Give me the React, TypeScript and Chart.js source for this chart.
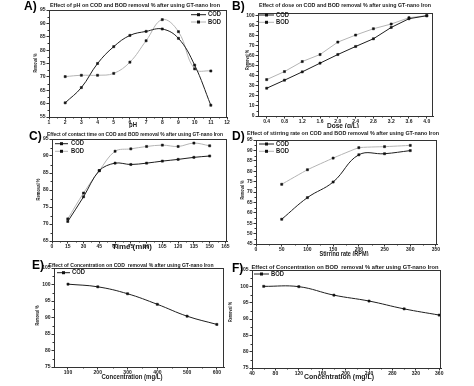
import React, { useEffect, useRef } from 'react';
import { Chart, registerables } from 'chart.js';
Chart.register(...registerables);

const FONT = '"Liberation Sans", Arial, sans-serif';
const COD_COLOR = '#1e1e1e';
const BOD_COLOR = '#b4b4b4';

// ---- Panel A: pH ----
const phValues = [2, 3, 4, 5, 6, 7, 8, 9, 10, 11];
const codPh = [60.3, 66.0, 75.0, 81.3, 85.5, 87.0, 87.9, 84.4, 74.4, 59.4];
const bodPh = [70.1, 70.6, 70.6, 71.3, 75.5, 83.5, 91.4, 86.9, 73.0, 72.2];
const phXTicks = [1, 2, 3, 4, 5, 6, 7, 8, 9, 10, 11, 12];
const phYTicks = [55, 60, 65, 70, 75, 80, 85, 90, 95];

// ---- Panel B: dose ----
const doseValues = [0.4, 0.8, 1.2, 1.6, 2.0, 2.4, 2.8, 3.2, 3.6, 4.0];
const codDose = [27.7, 35.7, 44.0, 52.7, 61.3, 69.3, 77.0, 88.3, 97.0, 100];
const bodDose = [36.3, 44.3, 54.3, 61.3, 73.7, 80.7, 87.0, 91.7, 98.0, 100];
const doseXTicks = [0.4, 0.8, 1.2, 1.6, 2.0, 2.4, 2.8, 3.2, 3.6, 4.0];
const doseYTicks = [0, 10, 20, 30, 40, 50, 60, 70, 80, 90, 100];

// ---- Panel C: contact time ----
const timeValues = [15, 30, 45, 60, 75, 90, 105, 120, 135, 150];
const codTime = [70.75, 78.0, 85.7, 87.9, 87.5, 87.9, 88.5, 89.0, 89.6, 90.0];
const bodTime = [71.5, 79.1, 85.7, 91.4, 92.1, 92.8, 93.2, 92.8, 93.8, 93.0];
const timeXTicks = [0, 15, 30, 45, 60, 75, 90, 105, 120, 135, 150, 165];
const timeYTicks = [65, 70, 75, 80, 85, 90, 95];

// ---- Panel D: stirring rate ----
const rpmValues = [50, 100, 150, 200, 250, 300];
const codRpm = [56.9, 67.3, 74.8, 87.9, 88.4, 89.9];
const bodRpm = [73.7, 80.7, 86.3, 91.3, 91.8, 92.4];
const rpmXTicks = [0, 50, 100, 150, 200, 250, 300, 350];
const rpmYTicks = [45, 50, 55, 60, 65, 70, 75, 80, 85, 90, 95];

// ---- Panel E: concentration (COD) ----
const concCodValues = [100, 200, 300, 400, 500, 600];
const codConc = [100.1, 99.3, 97.2, 94.0, 90.4, 87.9];
const concCodXTicks = [100, 200, 300, 400, 500, 600];

// ---- Panel F: concentration (BOD) ----
const concBodValues = [60, 120, 180, 240, 300, 360];
const bodConc = [100.0, 99.9, 97.3, 95.5, 93.1, 91.2];
const concBodXTicks = [40, 80, 120, 160, 200, 240, 280, 320, 360];
const concYTicks = [75, 80, 85, 90, 95, 100, 105];

function pts(xs: number[], ys: number[]) {
  return xs.map((x, i) => ({ x, y: ys[i] }));
}

function drawFitText(ctx: CanvasRenderingContext2D, text: string, cx: number, cy: number, size: number, width: number | null, rotate = false, color = '#1a1a1a') {
  ctx.save();
  ctx.font = `bold ${size}px ${FONT}`;
  ctx.fillStyle = color;
  ctx.textAlign = 'center';
  ctx.textBaseline = 'middle';
  const w = ctx.measureText(text).width;
  ctx.translate(cx, cy);
  if (rotate) ctx.rotate(-Math.PI / 2);
  if (width) ctx.scale(width / w, 1);
  ctx.fillText(text, 0, 0);
  ctx.restore();
}

type Series = { label: string; xs: number[]; ys: number[]; color: string; tension: number; legendY: number };

type PanelSpec = {
  letter: string; letterX: number; letterY: number;
  box: { left: number; top: number; width: number; height: number };
  area: { l: number; r: number; t: number; b: number };
  xMin: number; xMax: number; xTicks: number[]; xFmt: (v: number) => string;
  yMin: number; yMax: number; yTicks: number[];
  title: { text: string; x: number; y: number; w: number };
  xTitle: { text: string; x: number; y: number; w: number };
  yTitle: { x: number; y: number; w: number };
  legend: { x0: number; x1: number; tx: number };
  series: Series[];
};

const panels: PanelSpec[] = [
  {
    letter: 'A)', letterX: 24, letterY: 0,
    box: { left: 0, top: 0, width: 237, height: 128 },
    area: { l: 49, r: 227, t: 10, b: 117 },
    xMin: 1, xMax: 12, xTicks: phXTicks, xFmt: (v) => String(v),
    yMin: 55, yMax: 95, yTicks: phYTicks,
    title: { text: 'Effect of pH on COD and BOD removal % after using GT-nano Iron', x: 135, y: 5.5, w: 170 },
    xTitle: { text: 'pH', x: 133, y: 125.3, w: 8 },
    yTitle: { x: 35, y: 63, w: 19 },
    legend: { x0: 191, x1: 206, tx: 208 },
    series: [
      { label: 'COD', xs: phValues, ys: codPh, color: COD_COLOR, tension: 0.4, legendY: 14.7 },
      { label: 'BOD', xs: phValues, ys: bodPh, color: BOD_COLOR, tension: 0.4, legendY: 22 },
    ],
  },
  {
    letter: 'B)', letterX: 232, letterY: 0,
    box: { left: 232, top: 0, width: 242, height: 128 },
    area: { l: 258, r: 433, t: 13, b: 116 },
    xMin: 0.205, xMax: 4.14, xTicks: doseXTicks, xFmt: (v) => v.toFixed(1),
    yMin: 0, yMax: 102.7, yTicks: doseYTicks,
    title: { text: 'Effect of dose on COD and BOD removal % after using GT-nano Iron', x: 345, y: 5.3, w: 172 },
    xTitle: { text: 'Dose (g/L)', x: 343, y: 126.5, w: 32 },
    yTitle: { x: 247, y: 60, w: 20 },
    legend: { x0: 259, x1: 274, tx: 276 },
    series: [
      { label: 'COD', xs: doseValues, ys: codDose, color: COD_COLOR, tension: 0, legendY: 15 },
      { label: 'BOD', xs: doseValues, ys: bodDose, color: BOD_COLOR, tension: 0, legendY: 22.3 },
    ],
  },
  {
    letter: 'C)', letterX: 29, letterY: 129.5,
    box: { left: 0, top: 128, width: 237, height: 128 },
    area: { l: 52, r: 227, t: 139, b: 241 },
    xMin: 0, xMax: 166.5, xTicks: timeXTicks, xFmt: (v) => String(v),
    yMin: 65, yMax: 95, yTicks: timeYTicks,
    title: { text: 'Effect of contact time on COD and BOD removal % after using GT-nano Iron', x: 135, y: 134.3, w: 176 },
    xTitle: { text: 'Time (min)', x: 132, y: 247, w: 40 },
    yTitle: { x: 38, y: 189.5, w: 22 },
    legend: { x0: 55, x1: 68, tx: 71 },
    series: [
      { label: 'COD', xs: timeValues, ys: codTime, color: COD_COLOR, tension: 0.35, legendY: 143.7 },
      { label: 'BOD', xs: timeValues, ys: bodTime, color: BOD_COLOR, tension: 0.35, legendY: 151.3 },
    ],
  },
  {
    letter: 'D)', letterX: 232, letterY: 130,
    box: { left: 232, top: 128, width: 242, height: 128 },
    area: { l: 256, r: 437, t: 140, b: 244 },
    xMin: 0, xMax: 352, xTicks: rpmXTicks, xFmt: (v) => String(v),
    yMin: 45, yMax: 95, yTicks: rpmYTicks,
    title: { text: 'Effect of stirring rate on COD and BOD removal % after using GT-nano Iron', x: 343, y: 133.3, w: 192 },
    xTitle: { text: 'Stirring rate (RPM)', x: 344, y: 254.7, w: 49 },
    yTitle: { x: 242, y: 190, w: 19 },
    legend: { x0: 259, x1: 274, tx: 276 },
    series: [
      { label: 'COD', xs: rpmValues, ys: codRpm, color: COD_COLOR, tension: 0.4, legendY: 144 },
      { label: 'BOD', xs: rpmValues, ys: bodRpm, color: BOD_COLOR, tension: 0.1, legendY: 151.3 },
    ],
  },
  {
    letter: 'E)', letterX: 32, letterY: 258.5,
    box: { left: 0, top: 255, width: 237, height: 131 },
    area: { l: 54, r: 224, t: 268, b: 367 },
    xMin: 53, xMax: 624, xTicks: concCodXTicks, xFmt: (v) => String(v),
    yMin: 75, yMax: 105, yTicks: concYTicks,
    title: { text: 'Effect of Concentration on COD  removal % after using GT-nano Iron', x: 131, y: 265.7, w: 165 },
    xTitle: { text: 'Concentration (mg/L)', x: 132, y: 377.7, w: 61 },
    yTitle: { x: 37, y: 315.5, w: 20 },
    legend: { x0: 57, x1: 70, tx: 72 },
    series: [
      { label: 'COD', xs: concCodValues, ys: codConc, color: COD_COLOR, tension: 0.4, legendY: 272.7 },
    ],
  },
  {
    letter: 'F)', letterX: 232, letterY: 261.5,
    box: { left: 225, top: 255, width: 249, height: 131 },
    area: { l: 252, r: 441, t: 270, b: 368 },
    xMin: 40, xMax: 363, xTicks: concBodXTicks, xFmt: (v) => String(v),
    yMin: 75, yMax: 105, yTicks: concYTicks,
    title: { text: 'Effect of Concentration on BOD  removal % after using GT-nano Iron', x: 345, y: 267.3, w: 187 },
    xTitle: { text: 'Concentration (mg/L)', x: 339, y: 377.7, w: 70 },
    yTitle: { x: 230, y: 312, w: 20 },
    legend: { x0: 254, x1: 269, tx: 271 },
    series: [
      { label: 'BOD', xs: concBodValues, ys: bodConc, color: COD_COLOR, tension: 0.4, legendY: 274 },
    ],
  },
];

function makeDeco(spec: PanelSpec) {
  const ox = spec.box.left;
  const oy = spec.box.top;
  return {
    id: 'deco_' + spec.letter,
    afterDraw(chart: any) {
      const ctx: CanvasRenderingContext2D = chart.ctx;
      const { left, top, right, bottom } = chart.chartArea;
      ctx.save();
      // frame
      ctx.strokeStyle = '#333';
      ctx.lineWidth = 1;
      ctx.strokeRect(Math.round(left) + 0.5, Math.round(top) + 0.5, Math.round(right - left) - 1, Math.round(bottom - top));
      // minor ticks
      const xs = chart.scales.x;
      const ys = chart.scales.y;
      ctx.beginPath();
      for (let i = 0; i < spec.xTicks.length - 1; i++) {
        const px = Math.round(xs.getPixelForValue((spec.xTicks[i] + spec.xTicks[i + 1]) / 2)) + 0.5;
        ctx.moveTo(px, bottom);
        ctx.lineTo(px, bottom + 1.5);
      }
      for (let i = 0; i < spec.yTicks.length - 1; i++) {
        const py = Math.round(ys.getPixelForValue((spec.yTicks[i] + spec.yTicks[i + 1]) / 2)) + 0.5;
        ctx.moveTo(left, py);
        ctx.lineTo(left - 1.5, py);
      }
      ctx.stroke();
      ctx.restore();
      // titles
      drawFitText(ctx, spec.title.text, spec.title.x - ox, spec.title.y - oy, 5, spec.title.w);
      drawFitText(ctx, spec.xTitle.text, spec.xTitle.x - ox, spec.xTitle.y - oy, 6.5, spec.xTitle.w);
      drawFitText(ctx, 'Removal %', spec.yTitle.x - ox, spec.yTitle.y - oy, 6, spec.yTitle.w, true);
      // legend
      for (const s of spec.series) {
        const y = s.legendY - oy;
        ctx.save();
        ctx.strokeStyle = s.color;
        ctx.lineWidth = 1;
        ctx.beginPath();
        ctx.moveTo(spec.legend.x0 - ox, y);
        ctx.lineTo(spec.legend.x1 - ox, y);
        ctx.stroke();
        ctx.fillStyle = '#111';
        const mx = (spec.legend.x0 + spec.legend.x1) / 2 - ox;
        ctx.fillRect(mx - 1.5, y - 1.5, 3, 3);
        ctx.restore();
        drawFitText(ctx, s.label, spec.legend.tx - ox + 6.5, y, 6.5, 13);
      }
    },
  };
}

function Panel({ spec }: { spec: PanelSpec }) {
  const ref = useRef<HTMLCanvasElement>(null);
  useEffect(() => {
    const canvas = ref.current;
    if (!canvas) return;
    const { box, area } = spec;
    const yAxisW = area.l - box.left;
    const xAxisH = box.top + box.height - area.b;
    const tickFont = { family: FONT, size: 5, weight: 'bold' as const };
    const chart = new Chart(canvas, {
      type: 'line',
      data: {
        datasets: spec.series.map((s) => ({
          label: s.label,
          data: pts(s.xs, s.ys),
          borderColor: s.color,
          borderWidth: 1,
          backgroundColor: '#111',
          pointStyle: 'rect',
          pointRadius: 1.5,
          pointBackgroundColor: '#111',
          pointBorderColor: '#111',
          pointBorderWidth: 0.5,
          tension: s.tension,
          fill: false,
        })),
      },
      options: {
        responsive: false,
        animation: false,
        devicePixelRatio: 1,
        events: [],
        layout: { padding: { top: area.t - box.top, right: box.left + box.width - area.r, bottom: 0, left: 0 } },
        plugins: { legend: { display: false }, title: { display: false }, tooltip: { enabled: false } },
        scales: {
          x: {
            type: 'linear',
            min: spec.xMin,
            max: spec.xMax,
            afterBuildTicks: (s: any) => { s.ticks = spec.xTicks.map((v) => ({ value: v })); },
            afterFit: (s: any) => { s.height = xAxisH; s.paddingLeft = 0; s.paddingRight = 0; },
            grid: { display: true, drawOnChartArea: false, drawTicks: true, tickLength: 2.5, color: '#333', lineWidth: 1 },
            border: { display: true, color: '#333', width: 1 },
            ticks: { font: tickFont, color: '#222', padding: 0.5, maxRotation: 0, autoSkip: false, callback: (v: any) => spec.xFmt(Number(v)) },
          },
          y: {
            type: 'linear',
            min: spec.yMin,
            max: spec.yMax,
            afterBuildTicks: (s: any) => { s.ticks = spec.yTicks.map((v) => ({ value: v })); },
            afterFit: (s: any) => { s.width = yAxisW; s.paddingTop = 0; s.paddingBottom = 0; },
            grid: { display: true, drawOnChartArea: false, drawTicks: true, tickLength: 2.5, color: '#333', lineWidth: 1 },
            border: { display: true, color: '#333', width: 1 },
            ticks: { font: tickFont, color: '#222', padding: 1, autoSkip: false, callback: (v: any) => String(v) },
          },
        },
      },
      plugins: [makeDeco(spec)],
    } as any);
    return () => chart.destroy();
  }, [spec]);
  return (
    <>
      <canvas
        ref={ref}
        width={spec.box.width}
        height={spec.box.height}
        style={{ position: 'absolute', left: spec.box.left, top: spec.box.top, width: spec.box.width, height: spec.box.height }}
      />
    </>
  );
}

export default function App() {
  return (
    <div style={{ position: 'absolute', left: 0, top: 0, width: 474, height: 386, background: '#fff', overflow: 'hidden' }}>
      {panels.map((p) => (
        <Panel key={p.letter} spec={p} />
      ))}
      {panels.map((p) => (
        <div
          key={'L' + p.letter}
          style={{ position: 'absolute', left: p.letterX, top: p.letterY, font: `bold 12px ${FONT}`, lineHeight: '12px', color: '#000', whiteSpace: 'nowrap' }}
        >
          {p.letter}
        </div>
      ))}
    </div>
  );
}
